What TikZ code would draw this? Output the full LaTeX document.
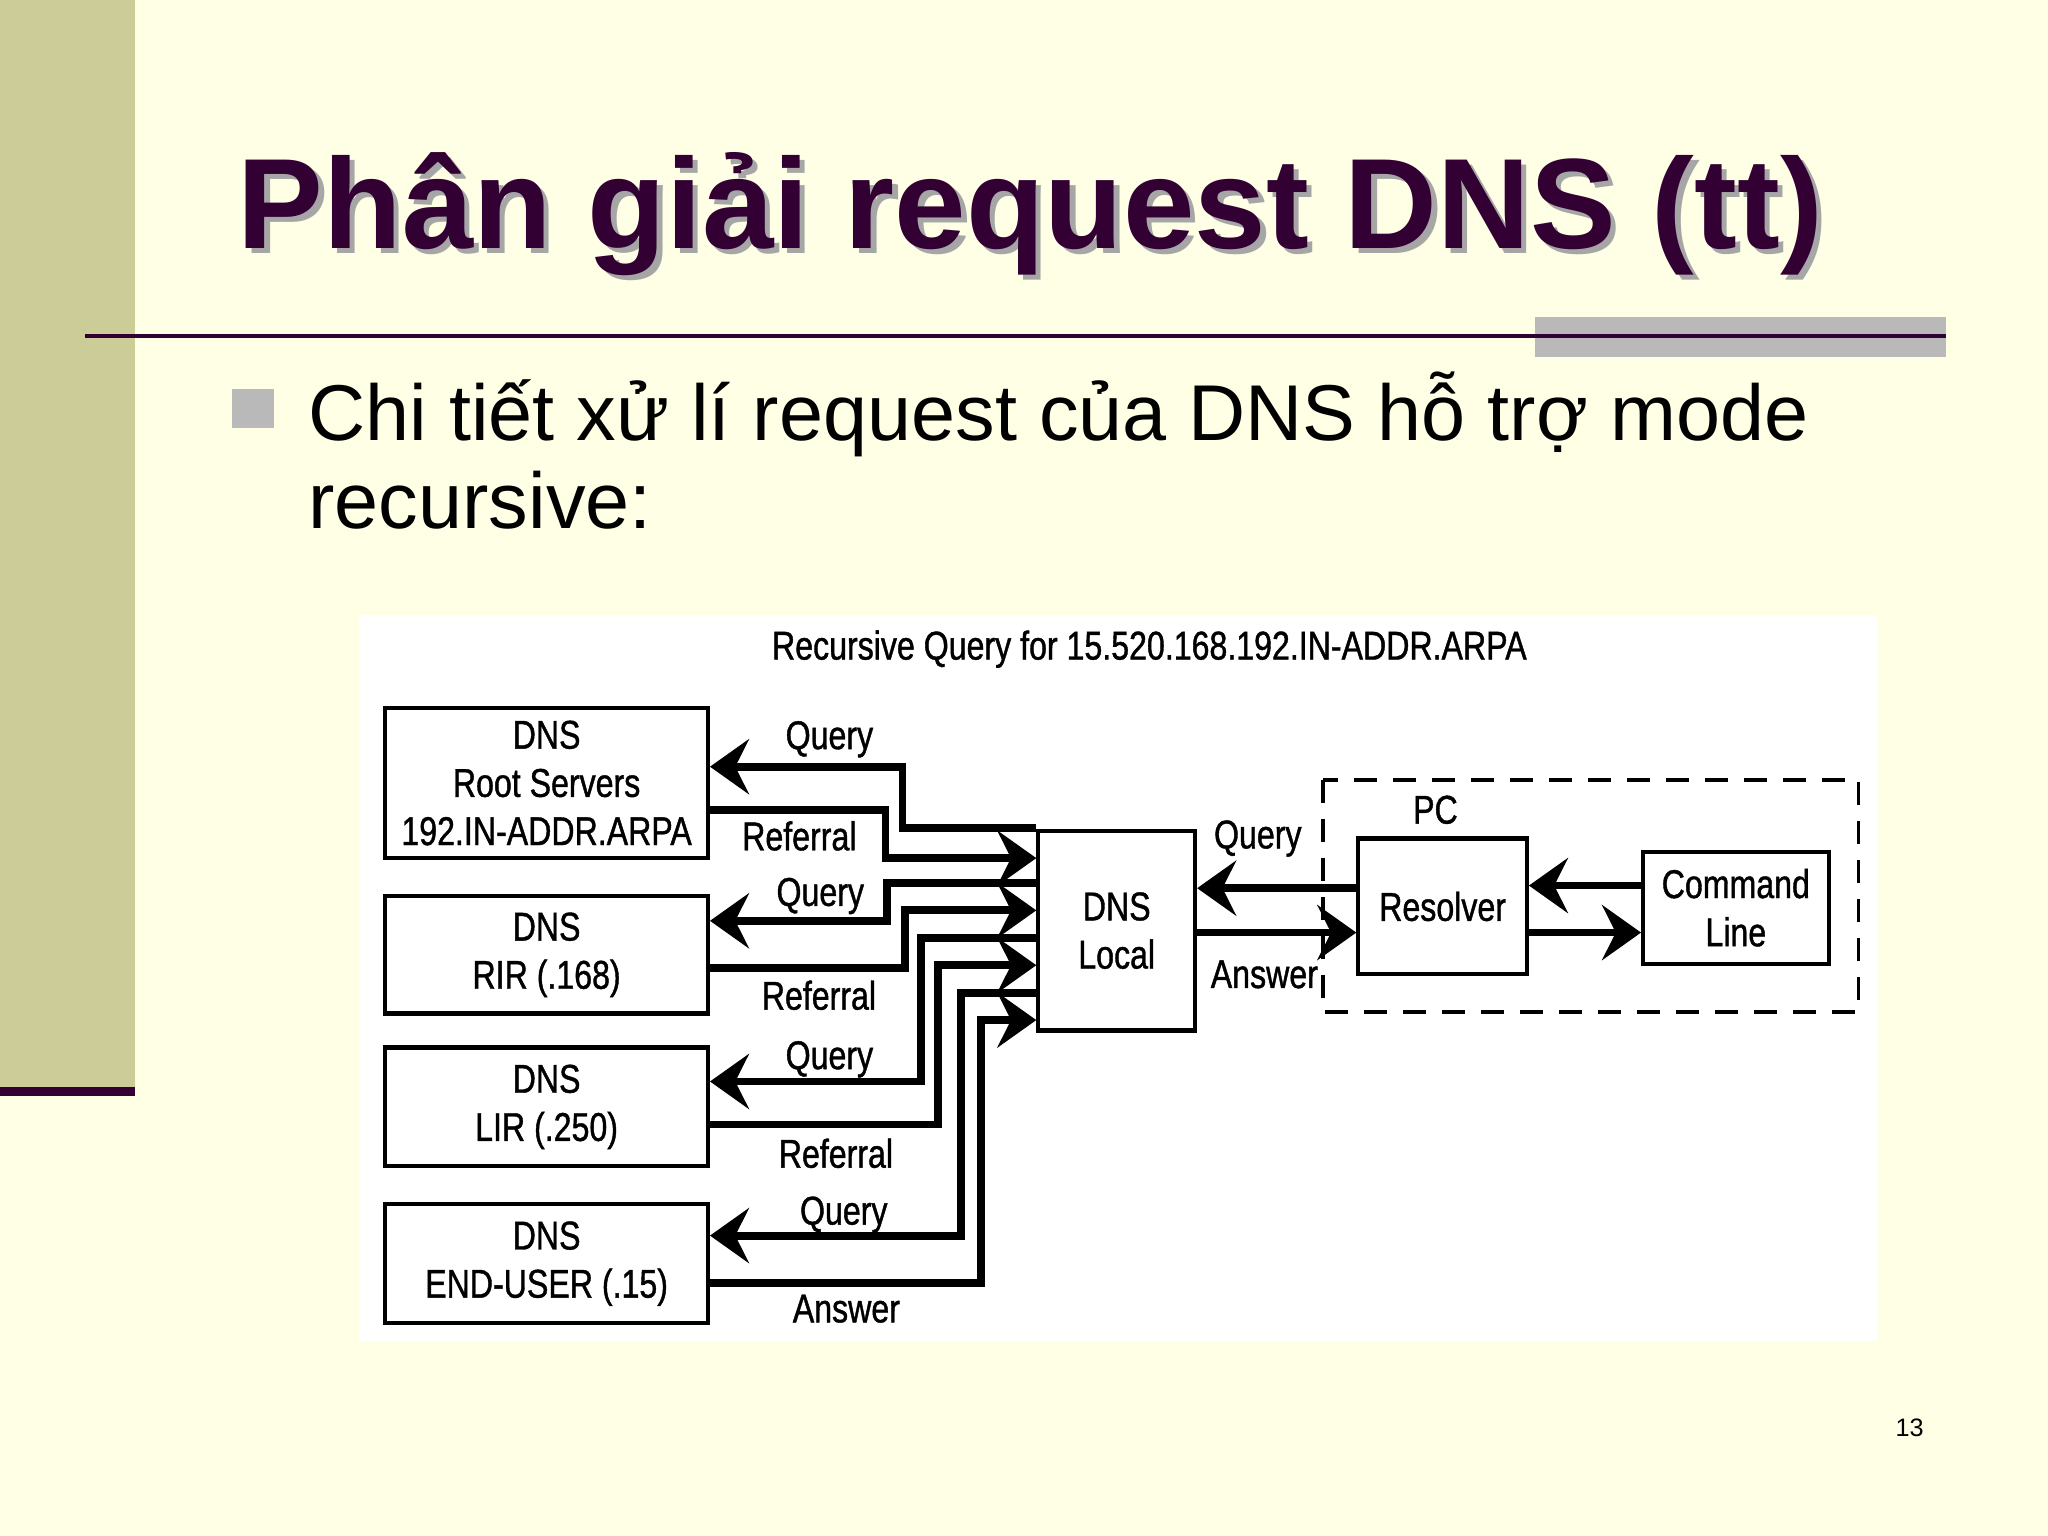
\documentclass[tikz,border=0pt]{standalone}
\usepackage{fontspec}
\setmainfont{Liberation Sans}
\newfontfamily\cond{Liberation Sans}[FakeStretch=0.8,FakeBold=1]
\usetikzlibrary{arrows.meta}
\definecolor{bg}{HTML}{FFFFE6}
\definecolor{bar}{HTML}{CCCC99}
\definecolor{plum}{HTML}{330033}
\begin{document}
\begin{tikzpicture}[x=0.02cm,y=-0.02cm,
  box/.style={draw,line width=1.8pt,fill=white,inner sep=0pt},
  lbl/.style={font=\cond\fontsize{17.5}{21}\selectfont,align=center},
  wire/.style={line width=3.4pt,line cap=butt},
  tip/.style={-{Stealth[length=17pt,width=24pt,inset=6pt]}}]
\useasboundingbox (0,0) rectangle (1568,1176);
\fill[bg] (0,0) rectangle (1568,1176);
\fill[bar] (0,0) rectangle (103,835);
\fill[plum] (0,832) rectangle (103,839);
% title
\node[anchor=base west,font=\bfseries\fontsize{56}{60}\selectfont,text=gray!70] at (180,194) {Phân giải request DNS (tt)};
\node (title) [anchor=base west,font=\bfseries\fontsize{56}{60}\selectfont,text=plum] at (176,190) {Phân giải request DNS (tt)};
\fill[gray!55] (1175,243) rectangle (1490,273);
\draw[plum,line width=1.8pt] (65,257) -- (1490,257);
\fill[gray!55] (178,298) rectangle (210,328);
\node[anchor=base west,font=\fontsize{34.5}{40}\selectfont,align=left] at (230,337) {Chi tiết xử lí request của DNS hỗ trợ mode};
\node[anchor=base west,font=\fontsize{34.5}{40}\selectfont] at (230,405) {recursive:};
% diagram
\fill[white] (275,471) rectangle (1437,1027);
\node[lbl] at (880,497) {Recursive Query for 15.520.168.192.IN-ADDR.ARPA};
\node (root) [box,minimum width=247*0.02cm,minimum height=115*0.02cm,lbl] at (418.5,599.5) {DNS\\Root Servers\\192.IN-ADDR.ARPA};
\node (rir) [box,minimum width=247*0.02cm,minimum height=90*0.02cm,lbl] at (418.5,731) {DNS\\RIR (.168)};
\node (lir) [box,minimum width=247*0.02cm,minimum height=91*0.02cm,lbl] at (418.5,847.5) {DNS\\LIR (.250)};
\node (end) [box,minimum width=247*0.02cm,minimum height=91*0.02cm,lbl] at (418.5,967.5) {DNS\\END-USER (.15)};
\node (local) [box,minimum width=120*0.02cm,minimum height=153*0.02cm,lbl] at (855,712.5) {DNS\\Local};
\draw[dashed,line width=1.6pt,dash pattern=on 10pt off 7pt] (1013,597) rectangle (1423,775);
\node[lbl] at (1099,620) {PC};
\node (res) [box,minimum width=129*0.02cm,minimum height=104*0.02cm,lbl] at (1104.5,694) {Resolver};
\node (cmd) [box,minimum width=142*0.02cm,minimum height=86*0.02cm,lbl] at (1329,695) {Command\\Line};
% left wires
\draw[wire,tip] (local.west |- 0,634) -- (691,634) -- (691,587) -- (root.east |- 0,587);
\draw[wire,tip] (root.east |- 0,620) -- (678,620) -- (678,657) -- (local.west |- 0,657);
\draw[wire,tip] (local.west |- 0,676) -- (679,676) -- (679,705) -- (rir.east |- 0,705);
\draw[wire,tip] (rir.east |- 0,741) -- (693,741) -- (693,697) -- (local.west |- 0,697);
\draw[wire,tip] (local.west |- 0,718) -- (705,718) -- (705,828) -- (lir.east |- 0,828);
\draw[wire,tip] (lir.east |- 0,861) -- (718,861) -- (718,739) -- (local.west |- 0,739);
\draw[wire,tip] (local.west |- 0,760) -- (736,760) -- (736,946) -- (end.east |- 0,946);
\draw[wire,tip] (end.east |- 0,982) -- (751,982) -- (751,781) -- (local.west |- 0,781);
\node[lbl] at (635,566) {Query};
\node[lbl] at (612,640) {Referral};
\node[lbl] at (628,686) {Query};
\node[lbl] at (627,762) {Referral};
\node[lbl] at (635,811) {Query};
\node[lbl] at (640,883) {Referral};
\node[lbl] at (646,930) {Query};
\node[lbl] at (648,1002) {Answer};
% right wires
\draw[wire,tip] (res.west |- 0,680) -- (local.east |- 0,680);
\draw[wire,tip] (local.east |- 0,714) -- (res.west |- 0,714);
\draw[wire,tip] (cmd.west |- 0,678) -- (res.east |- 0,678);
\draw[wire,tip] (res.east |- 0,714) -- (cmd.west |- 0,714);
\node[lbl] at (963,642) {Query};
\node[lbl] at (968,746) {Answer};
\node[font=\fontsize{11}{13}\selectfont] at (1462,1093) {13};
\end{tikzpicture}
\end{document}
